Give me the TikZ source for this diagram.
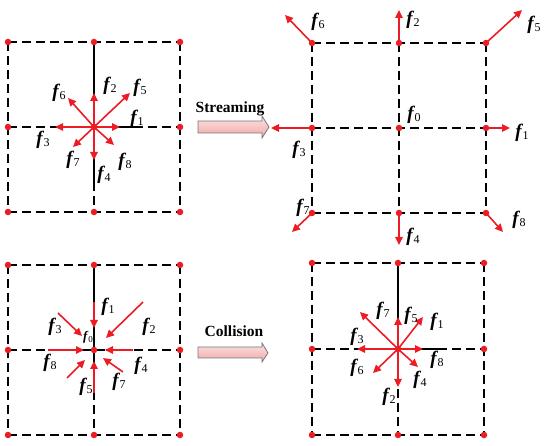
\documentclass[tikz,border=0pt]{standalone}
\usepackage{fontspec}
\setmainfont{Liberation Serif}
\usetikzlibrary{arrows.meta}
\definecolor{lbmred}{RGB}{236,28,36}
\definecolor{pinkA}{RGB}{253,228,228}
\definecolor{pinkB}{RGB}{240,165,165}
\definecolor{arrgray}{RGB}{120,120,120}
\newcommand{\fsub}[2][12]{{\bfseries\itshape f}\kern0.8pt\raisebox{-2pt}{\fontsize{#1}{#1}\selectfont #2}}
\newcommand{\mkgrid}[5]{%
  \foreach \i in {0,1,2}{\foreach \j in {0,1,2}{%
    \coordinate (#1-\i\j) at ({#2+\i*#4},{#3+\j*#5});}}%
}
\begin{document}
\begin{tikzpicture}[x=1pt,y=-1pt,
  gridline/.style={black,line width=1.5pt,dash pattern=on 9pt off 5pt},
  solidline/.style={black,line width=1.5pt},
  vec/.style={lbmred,line width=1.6pt,-{Triangle[length=8pt,width=7.5pt]}},
  dot/.style={circle,fill=lbmred,inner sep=0pt,minimum size=6.5pt},
  lab/.style={inner sep=0pt,font=\fontsize{19}{19}\selectfont},
  blk/.style={draw=arrgray,line width=0.8pt,top color=pinkA,bottom color=pinkB},
  blklab/.style={inner sep=0pt,font=\fontsize{15.5}{15.5}\selectfont\bfseries}]
\useasboundingbox (0,0) rectangle (550,446);

% grids
\mkgrid{tl}{8}{42}{86}{85}
\mkgrid{tr}{312}{43}{87}{85}
\mkgrid{bl}{8}{265}{86}{85}
\mkgrid{br}{312}{263}{86}{86}
\foreach \g in {tl,tr,bl,br}{
  \foreach \k in {0,1,2}{
    \draw[gridline] (\g-0\k) -- (\g-2\k);
    \draw[gridline] (\g-\k0) -- (\g-\k2);
  }
}

% solid segments
\coordinate (tl-sh) at (143,127);
\coordinate (tl-sv) at (94,187);
\draw[solidline] (tl-10) -- (tl-11);
\draw[solidline] (tl-11) -- (tl-sh);
\draw[solidline] (tl-11) -- (tl-sv);
\coordinate (bl-shl) at (84,350);
\coordinate (bl-shr) at (105,350);
\coordinate (bl-sv) at (94,395);
\draw[solidline] (bl-10) -- (bl-11);
\draw[solidline] (bl-shl) -- (bl-shr);
\draw[solidline] (bl-11) -- (bl-sv);
\coordinate (br-sh) at (443,349);
\draw[solidline] (br-10) -- (br-11);
\draw[solidline] (br-11) -- (br-sh);

% dots
\foreach \g in {tl,tr,bl,br}{
  \foreach \i in {0,1,2}{\foreach \j in {0,1,2}{
    \node[dot] (\g-d\i\j) at (\g-\i\j) {};
  }}
}

% top-left arrows
\coordinate (tl-t1) at (120,127);
\coordinate (tl-t2) at (94,93);
\coordinate (tl-t3) at (55,127);
\coordinate (tl-t4) at (94,160);
\coordinate (tl-t5) at (130,93);
\coordinate (tl-t6) at (68,98);
\coordinate (tl-t7) at (73,147);
\coordinate (tl-t8) at (114,145);
\foreach \k in {1,...,8}{\draw[vec] (tl-11) -- (tl-t\k);}
\node[lab] (tl-l2) at (110,86) {\fsub{2}};
\node[lab] (tl-l5) at (140,88) {\fsub{5}};
\node[lab] (tl-l6) at (59,93) {\fsub{6}};
\node[lab] (tl-l1) at (137,119) {\fsub{1}};
\node[lab] (tl-l3) at (43,140) {\fsub{3}};
\node[lab] (tl-l7) at (73,160) {\fsub{7}};
\node[lab] (tl-l8) at (125,162) {\fsub{8}};
\node[lab] (tl-l4) at (104,175) {\fsub{4}};

% top-right arrows
\coordinate (tr-t6) at (285,15);
\coordinate (tr-t2) at (399,10);
\coordinate (tr-t5) at (522,10);
\coordinate (tr-t3) at (271,128);
\coordinate (tr-t1) at (510,128);
\coordinate (tr-t7) at (292,232);
\coordinate (tr-t4) at (399,245);
\coordinate (tr-t8) at (503,232);
\draw[vec] (tr-00) -- (tr-t6);
\draw[vec] (tr-10) -- (tr-t2);
\draw[vec] (tr-20) -- (tr-t5);
\draw[vec] (tr-01) -- (tr-t3);
\draw[vec] (tr-21) -- (tr-t1);
\draw[vec] (tr-02) -- (tr-t7);
\draw[vec] (tr-12) -- (tr-t4);
\draw[vec] (tr-22) -- (tr-t8);
\node[lab] (tr-l6) at (318,22) {\fsub{6}};
\node[lab] (tr-l2) at (413,20) {\fsub{2}};
\node[lab] (tr-l5) at (534,25) {\fsub{5}};
\node[lab] (tr-l0) at (414,115) {\fsub{0}};
\node[lab] (tr-l1) at (522,133) {\fsub{1}};
\node[lab] (tr-l3) at (299,150) {\fsub{3}};
\node[lab] (tr-l7) at (303,208) {\fsub{7}};
\node[lab] (tr-l4) at (413,237) {\fsub{4}};
\node[lab] (tr-l8) at (519,220) {\fsub{8}};

% bottom-left arrows (incoming)
\coordinate (bl-a1) at (94,302);   \coordinate (bl-b1) at (94,328);
\coordinate (bl-a2) at (143,302);  \coordinate (bl-b2) at (106,338);
\coordinate (bl-a3) at (58,313);   \coordinate (bl-b3) at (82,336);
\coordinate (bl-a4) at (48,350);   \coordinate (bl-b4) at (84,350);
\coordinate (bl-a5) at (133,350);  \coordinate (bl-b5) at (105,350);
\coordinate (bl-a6) at (67,378);   \coordinate (bl-b6) at (85,360);
\coordinate (bl-a7) at (123,372);  \coordinate (bl-b7) at (103,358);
\coordinate (bl-a8) at (94,393);   \coordinate (bl-b8) at (94,361);
\foreach \k in {1,...,8}{\draw[vec] (bl-a\k) -- (bl-b\k);}
\node[lab] (bl-l1) at (108,307) {\fsub{1}};
\node[lab] (bl-l2) at (149,327) {\fsub{2}};
\node[lab] (bl-l3) at (55,327) {\fsub{3}};
\node[lab,font=\fontsize{13}{13}\selectfont] (bl-l0) at (88,337) {\fsub[9]{0}};
\node[lab] (bl-l8) at (50,363) {\fsub{8}};
\node[lab] (bl-l4) at (141,366) {\fsub{4}};
\node[lab] (bl-l7) at (119,382) {\fsub{7}};
\node[lab] (bl-l5) at (86,387) {\fsub{5}};

% bottom-right arrows
\coordinate (br-t5) at (398,317);
\coordinate (br-t2) at (398,387);
\coordinate (br-t3) at (357,349);
\coordinate (br-t8) at (423,349);
\coordinate (br-t7) at (360,312);
\coordinate (br-t1) at (423,317);
\coordinate (br-t6) at (373,373);
\coordinate (br-t4) at (418,367);
\foreach \k in {1,...,8}{\draw[vec] (br-11) -- (br-t\k);}
\node[lab] (br-l7) at (383,311) {\fsub{7}};
\node[lab] (br-l5) at (411,316) {\fsub{5}};
\node[lab] (br-l1) at (437,322) {\fsub{1}};
\node[lab] (br-l3) at (357,337) {\fsub{3}};
\node[lab] (br-l8) at (437,360) {\fsub{8}};
\node[lab] (br-l6) at (357,368) {\fsub{6}};
\node[lab] (br-l4) at (420,380) {\fsub{4}};
\node[lab] (br-l2) at (389,397) {\fsub{2}};

% block arrows
\path[blk] (198,121) -- (262,121) -- (262,116) -- (269,127) -- (262,138) -- (262,133) -- (198,133) -- cycle;
\node[blklab] (streaming) at (230,109) {Streaming};
\path[blk] (198,347) -- (262,347) -- (262,343) -- (268,353) -- (262,362) -- (262,358) -- (198,358) -- cycle;
\node[blklab] (collision) at (234,331) {Collision};
\end{tikzpicture}
\end{document}
